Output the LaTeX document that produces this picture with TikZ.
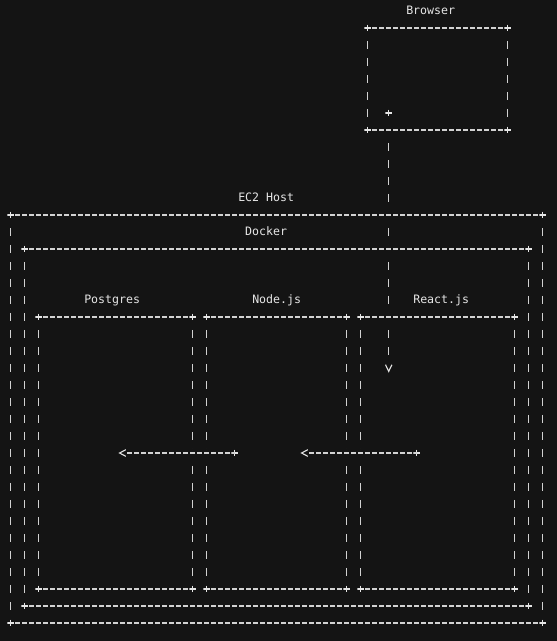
\documentclass[tikz,border=0pt]{standalone}
\usepackage{fontspec}
\newfontfamily\asciifont{DejaVu Sans Mono}
\definecolor{bg}{HTML}{141414}
\definecolor{ink}{HTML}{E6E6E6}
\definecolor{dashc}{HTML}{D2D2D2}

\newcommand{\asciiframe}[1]{%
  \draw[boxline] (#1.north west) -- (#1.north east);
  \draw[boxline] (#1.south west) -- (#1.south east);
  \draw[vbars] ([yshift=-8.5pt]#1.north west) -- ([yshift=8.5pt]#1.south west);
  \draw[vbars] ([yshift=-8.5pt]#1.north east) -- ([yshift=8.5pt]#1.south east);
  \foreach \cn/\an in {nw/north west,ne/north east,sw/south west,se/south east}
    \node[plus] (#1-\cn) at (#1.\an) {};
}

\begin{document}
\begin{tikzpicture}[x=7pt,y=-17pt,
  cell/.style={inner sep=0pt, outer sep=0pt},
  frame/.style={cell, draw=none},
  hdashes/.style={draw=dashc, line width=1.2pt, dash pattern=on 4.8pt off 2.2pt, dash phase=2.4pt},
  vbars/.style={draw=dashc, line width=1.2pt, dash pattern=on 8.4pt off 8.6pt, dash phase=12.7pt},
  knock/.style={draw=bg, line width=9pt, solid},
  boxline/.style={hdashes, preaction={knock}},
  plus/.style={cell, minimum size=6.6pt, path picture={\draw[ink, line width=1.2pt]
    (path picture bounding box.west) -- (path picture bounding box.east)
    (path picture bounding box.north) -- (path picture bounding box.south);}},
  lhead/.style={cell, minimum size=10pt, path picture={\draw[ink, line width=1.1pt, line join=miter]
    ([xshift=3.1pt,yshift=3.3pt]path picture bounding box.center) -- ([xshift=-3.1pt]path picture bounding box.center)
    -- ([xshift=3.1pt,yshift=-3.3pt]path picture bounding box.center);}},
  vhead/.style={cell, minimum size=10pt, path picture={\draw[ink, line width=1.1pt, line join=miter]
    ([xshift=-3.2pt,yshift=3.3pt]path picture bounding box.center) -- ([yshift=-3.4pt]path picture bounding box.center)
    -- ([xshift=3.2pt,yshift=3.3pt]path picture bounding box.center);}},
  lbl/.style={cell, anchor=base, yshift=-3.8pt, text=ink, font=\asciifont\fontsize{11.6pt}{14pt}\selectfont}]
\useasboundingbox[fill=bg] (-10.7pt,11pt) rectangle (546.3pt,-630pt);

\node[frame, minimum width=140pt, minimum height=102pt] (brw) at (61,4) {};
\node[frame, minimum width=532pt, minimum height=408pt] (ec2) at (38,24) {};
\node[frame, minimum width=504pt, minimum height=357pt] (dck) at (38,24.5) {};
\node[frame, minimum width=154pt, minimum height=272pt] (pg) at (15,26) {};
\node[frame, minimum width=140pt, minimum height=272pt] (njs) at (38,26) {};
\node[frame, minimum width=154pt, minimum height=272pt] (rjs) at (61,26) {};

\node[plus] (brwout) at (54,6) {};
\node[vhead] (rjsin) at (54,21) {};
\draw[vbars] ([yshift=-8.5pt]brwout.center) -- ([yshift=8.5pt]rjsin.center);

\asciiframe{brw}
\asciiframe{ec2}
\asciiframe{dck}
\asciiframe{pg}
\asciiframe{njs}
\asciiframe{rjs}

\node[plus] (njsout) at (32,26) {};
\node[lhead] (pgin) at (16,26) {};
\node[plus] (rjsout) at (58,26) {};
\node[lhead] (njsin) at (42,26) {};
\draw[knock] ([xshift=-3.5pt]njsout.center) -- ([xshift=3.5pt]pgin.center);
\draw[hdashes] (njsout.center) -- ([xshift=3.5pt]pgin.center);
\draw[knock] ([xshift=-3.5pt]rjsout.center) -- ([xshift=3.5pt]njsin.center);
\draw[hdashes] (rjsout.center) -- ([xshift=3.5pt]njsin.center);

\node[lbl] (brwlbl) at (60,0) {Browser};
\node[lbl] (ec2lbl) at (36.5,11) {EC2 Host};
\node[lbl] (dcklbl) at (36.5,13) {Docker};
\node[lbl] (pglbl) at (14.5,17) {Postgres};
\node[lbl] (njslbl) at (38,17) {Node.js};
\node[lbl] (rjslbl) at (61.5,17) {React.js};
\end{tikzpicture}
\end{document}
